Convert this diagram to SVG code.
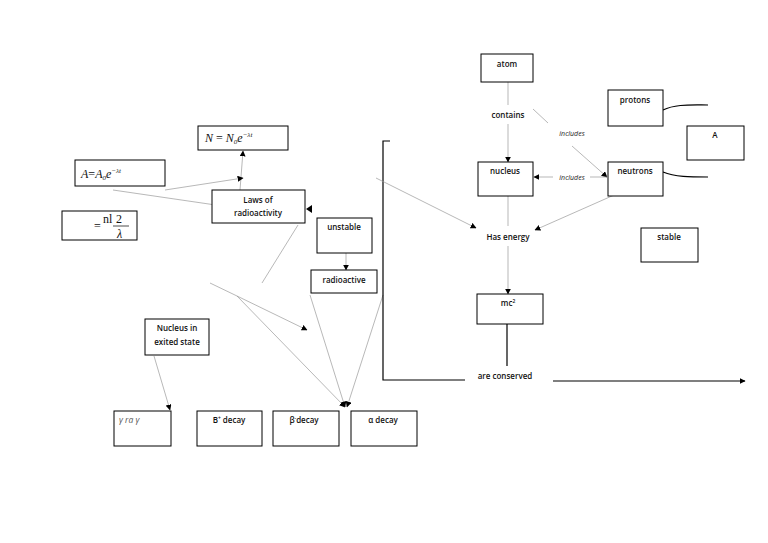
<svg xmlns="http://www.w3.org/2000/svg" width="768" height="543" viewBox="0 0 768 543">
<style>
.box{fill:#fff;stroke:#000;stroke-width:1}
.t{font-family:"Open Sans","Liberation Sans",sans-serif;font-size:8px;font-weight:600;fill:#111;text-anchor:middle}
.i{font-family:"Open Sans","Liberation Sans",sans-serif;font-size:7px;font-style:italic;fill:#222;text-anchor:middle}
.m{font-family:"Liberation Serif","DejaVu Serif",serif;font-size:12px;font-style:italic;fill:#111}
.f{font-family:"Liberation Serif","DejaVu Serif",serif;font-size:12px;fill:#111}
.g{fill:none;stroke:#999;stroke-width:0.7}
.k{fill:none;stroke:#000;stroke-width:1.2}
</style>
<defs>
<marker id="ah" viewBox="0 0 10 10" refX="9" refY="5" markerWidth="6" markerHeight="6" orient="auto" markerUnits="userSpaceOnUse">
<path d="M0,0 L10,5 L0,10 z" fill="#000"/>
</marker>
</defs>
<rect width="768" height="543" fill="#fff"/>
<g id="connectors">
<path class="g" d="M240,190 L243,151" marker-end="url(#ah)"/>
<path class="g" d="M165,190 L243,178" marker-end="url(#ah)"/>
<path class="g" d="M113,190 L243,209" marker-end="url(#ah)"/>
<path d="M312,205 L306,209 L312,213 z" fill="#000"/>
<path class="g" d="M298,225 L262,283"/>
<path class="g" d="M346,253 L346,270" marker-end="url(#ah)"/>
<path class="g" d="M210,283 L237,296 L307,330" marker-end="url(#ah)"/>
<path class="g" d="M237,296 L345,407" marker-end="url(#ah)"/>
<path class="g" d="M310,295 L345,407" marker-end="url(#ah)"/>
<path class="g" d="M383,295 L347,407" marker-end="url(#ah)"/>
<path class="g" d="M154,356 L170,410" marker-end="url(#ah)"/>
<path class="k" d="M390,141 L383,141 L383,380 L465,380"/>
<path class="g" d="M376,178 L476,228" marker-end="url(#ah)"/>
<path class="g" d="M508,82 L508,105"/>
<path class="g" d="M508,124 L508,162" marker-end="url(#ah)"/>
<path class="g" d="M533,109 L548,123"/>
<path class="g" d="M572,146 L607,177" marker-end="url(#ah)"/>
<path class="g" d="M607,177 L590,177"/>
<path class="g" d="M553,177 L534,177" marker-end="url(#ah)"/>
<path class="k" d="M663,110 C675,104 690,105 708,105"/>
<path class="k" d="M663,172 C675,177 690,177 708,177"/>
<path class="g" d="M639,184 L535,230" marker-end="url(#ah)"/>
<path class="g" d="M508,196 L508,226"/>
<path class="g" d="M508,246 L508,294" marker-end="url(#ah)"/>
<path class="k" d="M507,324 L507,366"/>
<path class="k" d="M553,381 L745,381" marker-end="url(#ah)"/>
</g>
<g id="n-formula-N">
<rect class="box" x="198" y="126" width="90" height="24"/>
<text class="m" x="205" y="142">N<tspan font-style="normal"> = </tspan>N<tspan font-size="7" dy="2">0</tspan><tspan dy="-2">e</tspan><tspan font-size="7" dy="-5">−λt</tspan></text>
</g>
<g id="n-formula-A">
<rect class="box" x="75" y="160" width="90" height="26"/>
<text class="m" x="81" y="178">A<tspan font-style="normal">=</tspan>A<tspan font-size="7" dy="2">0</tspan><tspan dy="-2">e</tspan><tspan font-size="7" dy="-5">−λt</tspan></text>
</g>
<g id="n-formula-half">
<rect class="box" x="62" y="211" width="75" height="29"/>
<text class="f" x="94" y="230">=</text>
<text class="f" x="103" y="223">nl</text>
<text class="f" x="116" y="223">2</text>
<line x1="113" y1="226" x2="129" y2="226" stroke="#000" stroke-width="0.7"/>
<text class="m" x="117" y="238">λ</text>
</g>
<g id="n-laws">
<rect class="box" x="212" y="190" width="93" height="33"/>
<text class="t" x="258" y="203">Laws of</text>
<text class="t" x="258" y="216">radioactivity</text>
</g>
<g id="n-unstable">
<rect class="box" x="317" y="218" width="55" height="35"/>
<text class="t" x="344" y="230">unstable</text>
</g>
<g id="n-radioactive">
<rect class="box" x="311" y="270" width="66" height="23"/>
<text class="t" x="344" y="283">radioactive</text>
</g>
<g id="n-atom">
<rect class="box" x="481" y="54" width="52" height="28"/>
<text class="t" x="507" y="67">atom</text>
</g>
<g id="n-contains">
<text class="t" x="508" y="118">contains</text>
</g>
<g id="n-includes1">
<text class="i" x="572" y="136">includes</text>
</g>
<g id="n-includes2">
<text class="i" x="572" y="180">includes</text>
</g>
<g id="n-nucleus">
<rect class="box" x="478" y="162" width="55" height="34"/>
<text class="t" x="505" y="174">nucleus</text>
</g>
<g id="n-protons">
<rect class="box" x="608" y="90" width="55" height="36"/>
<text class="t" x="635" y="103">protons</text>
</g>
<g id="n-neutrons">
<rect class="box" x="608" y="162" width="55" height="34"/>
<text class="t" x="635" y="174">neutrons</text>
</g>
<g id="n-A">
<rect class="box" x="687" y="126" width="57" height="34"/>
<text class="t" x="715" y="138">A</text>
</g>
<g id="n-hasenergy">
<text class="t" x="508" y="240">Has energy</text>
</g>
<g id="n-stable">
<rect class="box" x="641" y="228" width="57" height="34"/>
<text class="t" x="669" y="240">stable</text>
</g>
<g id="n-mc2">
<rect class="box" x="477" y="294" width="66" height="30"/>
<text class="t" x="508" y="306">mc<tspan font-size="5" dy="-3">2</tspan></text>
</g>
<g id="n-conserved">
<text class="t" x="505" y="379">are conserved</text>
</g>
<g id="n-excited">
<rect class="box" x="145" y="319" width="64" height="36"/>
<text class="t" x="177" y="331">Nucleus in</text>
<text class="t" x="177" y="345">exited state</text>
</g>
<g id="n-gamma">
<rect class="box" x="114" y="411" width="57" height="35"/>
<text class="i" x="119" y="423" style="text-anchor:start;font-size:8.5px;fill:#555">γ ra γ</text>
</g>
<g id="n-bplus">
<rect class="box" x="197" y="411" width="65" height="35"/>
<text class="t" x="229" y="423">B<tspan font-size="5" dy="-3">+</tspan><tspan dy="3"> decay</tspan></text>
</g>
<g id="n-bminus">
<rect class="box" x="273" y="411" width="66" height="35"/>
<text class="t" x="304" y="423">β<tspan font-size="5" dy="-3">-</tspan><tspan dy="3">decay</tspan></text>
</g>
<g id="n-alpha">
<rect class="box" x="351" y="411" width="66" height="35"/>
<text class="t" x="383" y="423">α decay</text>
</g>
</svg>
